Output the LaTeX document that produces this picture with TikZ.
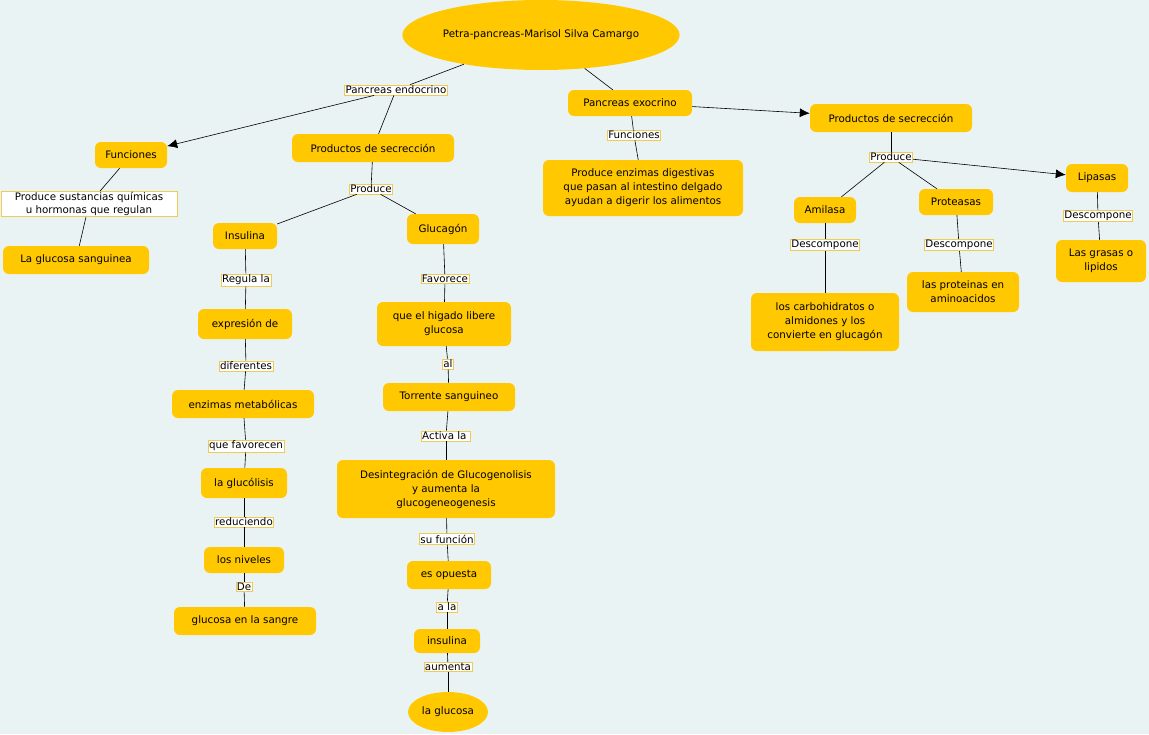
\documentclass[tikz,border=0pt]{standalone}
\usepackage{fontspec}
\setmainfont{DejaVu Sans}
\usetikzlibrary{shapes.geometric,arrows.meta}
\definecolor{bg}{HTML}{EAF3F4}
\definecolor{cf}{HTML}{FFC800}
\definecolor{lb}{HTML}{EFCB55}
\begin{document}
\begin{tikzpicture}[x=1pt,y=-1pt,
  c/.style={fill=cf,draw=none,rounded corners=6pt,align=center,inner sep=0pt,font=\fontsize{10.3}{14}\selectfont},
  l/.style={fill=white,draw=lb,line width=0.7pt,inner sep=1pt,align=center,font=\fontsize{10.3}{13}\selectfont},
  e/.style={draw=black,line width=0.6pt},
  a/.style={e,-{Latex[length=10pt,width=9pt]}}]
\fill[bg] (0,0) rectangle (1149,734);
\useasboundingbox (0,0) rectangle (1149,734);
\node[c,ellipse,minimum width=248,minimum height=70] (root) at (541,35) {Petra-pancreas-Marisol Silva Camargo};
\node[l] (pe) at (396,90) {Pancreas endocrino};
\node[c,minimum width=72,minimum height=26] (fun) at (131,155) {Funciones};
\node[c,minimum width=162,minimum height=28] (pl) at (373,148) {Productos de secrección};
\node[l] (prl) at (371,189) {Produce};
\node[l,minimum width=176] (ps) at (89,204) {Produce sustancias químicas\\u hormonas que regulan};
\node[c,minimum width=146,minimum height=28] (gs) at (76,260) {La glucosa sanguinea};
\node[c,minimum width=64,minimum height=26] (ins) at (245,236) {Insulina};
\node[c,minimum width=72,minimum height=30] (glu) at (443,229) {Glucagón};
\node[l] (rl) at (246,280) {Regula la};
\node[c,minimum width=94,minimum height=30] (exp) at (245,324) {expresión de};
\node[l] (dif) at (246,366) {diferentes};
\node[c,minimum width=142,minimum height=28] (enz) at (243,404) {enzimas metabólicas};
\node[l] (qf) at (246,446) {que favorecen};
\node[c,minimum width=86,minimum height=30] (glc) at (244,483) {la glucólisis};
\node[l] (red) at (244,522) {reduciendo};
\node[c,minimum width=80,minimum height=26] (niv) at (244,560) {los niveles};
\node[l] (de) at (244,587) {De};
\node[c,minimum width=142,minimum height=28] (gsa) at (245,621) {glucosa en la sangre};
\node[l] (fav) at (445,279) {Favorece};
\node[c,minimum width=134,minimum height=44] (hig) at (444,324) {que el higado libere\\glucosa};
\node[l] (al) at (448,364) {al};
\node[c,minimum width=132,minimum height=28] (tor) at (449,397) {Torrente sanguineo};
\node[l] (act) at (446,436) {Activa la };
\node[c,minimum width=218,minimum height=58] (des) at (446,489) {Desintegración de Glucogenolisis\\y aumenta la\\glucogeneogenesis};
\node[l] (suf) at (447,539) {su función};
\node[c,minimum width=84,minimum height=28] (opu) at (449,575) {es opuesta};
\node[l] (ala) at (447,607) {a la};
\node[c,minimum width=66,minimum height=24] (ins2) at (447,641) {insulina};
\node[l] (aum) at (448,667) {aumenta};
\node[c,ellipse,minimum width=80,minimum height=40] (lg) at (448,712) {la glucosa};
\node[c,minimum width=124,minimum height=26] (pex) at (630,103) {Pancreas exocrino};
\node[l] (fr) at (634,135) {Funciones};
\node[c,minimum width=200,minimum height=56] (pen) at (643,188) {Produce enzimas digestivas\\que pasan al intestino delgado\\ayudan a digerir los alimentos};
\node[c,minimum width=162,minimum height=28] (pr) at (891,118) {Productos de secrección};
\node[l] (prr) at (891,157) {Produce};
\node[c,minimum width=62,minimum height=26] (ami) at (825,210) {Amilasa};
\node[c,minimum width=74,minimum height=26] (pro) at (956,202) {Proteasas};
\node[c,minimum width=62,minimum height=28] (lip) at (1097,178) {Lipasas};
\node[l] (d1) at (825,245) {Descompone};
\node[l] (d2) at (959,245) {Descompone};
\node[l] (d3) at (1098,216) {Descompone};
\node[c,minimum width=148,minimum height=58] (car) at (825,322) {los carbohidratos o\\almidones y los\\convierte en glucagón};
\node[c,minimum width=112,minimum height=40] (prt) at (963,292) {las proteinas en\\aminoacidos};
\node[c,minimum width=90,minimum height=42] (gra) at (1101,261) {Las grasas o\\lipidos};
% edges
\draw[e] (root) -- (pe);
\draw[a] (pe) -- (fun);
\draw[e] (pe) -- (pl);
\draw[e] (pl) -- (prl);
\draw[e] (prl) -- (ins);
\draw[e] (prl) -- (glu);
\draw[e] (fun) -- (ps);
\draw[e] (ps) -- (gs);
\draw[e] (ins) -- (rl); \draw[e] (rl) -- (exp);
\draw[e] (exp) -- (dif); \draw[e] (dif) -- (enz);
\draw[e] (enz) -- (qf); \draw[e] (qf) -- (glc);
\draw[e] (glc) -- (red); \draw[e] (red) -- (niv);
\draw[e] (niv) -- (de); \draw[e] (de) -- (gsa);
\draw[e] (glu) -- (fav); \draw[e] (fav) -- (hig);
\draw[e] (hig) -- (al); \draw[e] (al) -- (tor);
\draw[e] (tor) -- (act); \draw[e] (act) -- (des);
\draw[e] (des) -- (suf); \draw[e] (suf) -- (opu);
\draw[e] (opu) -- (ala); \draw[e] (ala) -- (ins2);
\draw[e] (ins2) -- (aum); \draw[e] (aum) -- (lg);
\draw[e] (root) -- (pex);
\draw[e] (pex) -- (fr); \draw[e] (fr) -- (pen);
\draw[a] (pex) -- (pr);
\draw[e] (pr) -- (prr);
\draw[e] (prr) -- (ami);
\draw[e] (prr) -- (pro);
\draw[a] (prr) -- (lip);
\draw[e] (ami) -- (d1); \draw[e] (d1) -- (car);
\draw[e] (pro) -- (d2); \draw[e] (d2) -- (prt);
\draw[e] (lip) -- (d3); \draw[e] (d3) -- (gra);
\end{tikzpicture}
\end{document}
